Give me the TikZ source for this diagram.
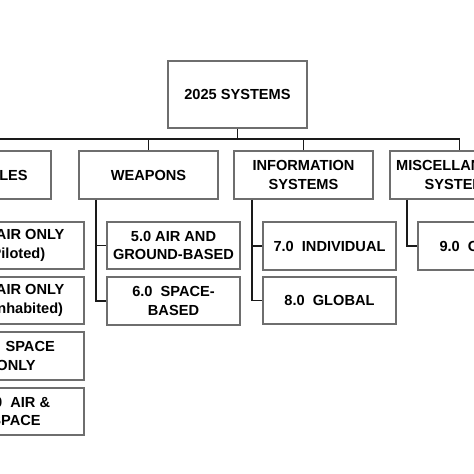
\documentclass[tikz,border=0pt]{standalone}
\usepackage{fontspec}
\setmainfont{Liberation Sans}
\definecolor{boxline}{HTML}{6E6E6E}
\definecolor{connline}{HTML}{1A1A1A}
\begin{document}
\begin{tikzpicture}[x=1pt,y=-1pt,
  box/.style={draw=boxline, line width=1.2pt, rectangle, inner sep=0pt, align=center,
    font=\bfseries\fontsize{14.6}{18.3}\selectfont, text=black},
  conn/.style={draw=connline, line width=1.8pt}]
\useasboundingbox (0,0) rectangle (474,474);
\fill[white] (0,0) rectangle (474,474);
\clip (0,0) rectangle (474,474);
% top level
\node[box, minimum width=139pt, minimum height=67pt] (top) at (237.5,94.5) {2025 SYSTEMS};
% second level
\node[box, minimum width=119.6pt, minimum height=48pt] (veh) at (-8.8,175) {VEHICLES};
\node[box, minimum width=139pt, minimum height=48pt] (weap) at (148.5,175) {WEAPONS};
\node[box, minimum width=139pt, minimum height=48pt] (info) at (303.5,175) {INFORMATION\\SYSTEMS};
\node[box, minimum width=139pt, minimum height=48pt] (misc) at (459.5,175) {MISCELLANEOUS\\SYSTEMS};
% vehicles
\node[box, minimum width=136pt, minimum height=47pt] (v1) at (16,245.5) {1.0~~AIR ONLY\\(Piloted)};
\node[box, minimum width=136pt, minimum height=47pt] (v2) at (16,300.5) {2.0~~AIR ONLY\\(Uninhabited)};
\node[box, minimum width=136pt, minimum height=48pt] (v3) at (16,356) {3.0~~SPACE\\ONLY};
\node[box, minimum width=136pt, minimum height=47pt] (v4) at (16,411.5) {4.0~~AIR \&\\SPACE};
% weapons
\node[box, minimum width=133pt, minimum height=47pt] (w5) at (173.5,245.5) {5.0 AIR AND\\GROUND-BASED};
\node[box, minimum width=133pt, minimum height=48pt] (w6) at (173.5,301) {6.0~~SPACE-\\BASED};
% information
\node[box, minimum width=133pt, minimum height=48pt] (i7) at (329.5,246) {7.0~~INDIVIDUAL};
\node[box, minimum width=133pt, minimum height=47pt] (i8) at (329.5,300.5) {8.0~~GLOBAL};
% misc
\node[box, minimum width=122.6pt, minimum height=48pt] (m9) at (479.3,246) {9.0~~OTHER};
% connector helper coordinates
\coordinate (bus) at (0,139);
\coordinate (vx) at (-62,0);
\coordinate (wx) at (96,0);
\coordinate (ix) at (252,0);
\coordinate (mx) at (407,0);
% bus
\draw[conn] (top.south) -- (top.south |- bus);
\draw[conn] (veh.north) -- (veh.north |- bus) -- (misc.north |- bus) -- (misc.north);
\draw[conn] (weap.north) -- (weap.north |- bus);
\draw[conn] (info.north) -- (info.north |- bus);
% vehicles branch
\draw[conn] (vx |- veh.south) |- (v4.west);
\draw[conn] (vx |- v1.west) -- (v1.west);
\draw[conn] (vx |- v2.west) -- (v2.west);
\draw[conn] (vx |- v3.west) -- (v3.west);
% weapons branch
\draw[conn] (wx |- weap.south) |- (w6.west);
\draw[conn] (wx |- w5.west) -- (w5.west);
% information branch
\draw[conn] (ix |- info.south) |- (i8.west);
\draw[conn] (ix |- i7.west) -- (i7.west);
% misc branch
\draw[conn] (mx |- misc.south) |- (m9.west);
\end{tikzpicture}
\end{document}
